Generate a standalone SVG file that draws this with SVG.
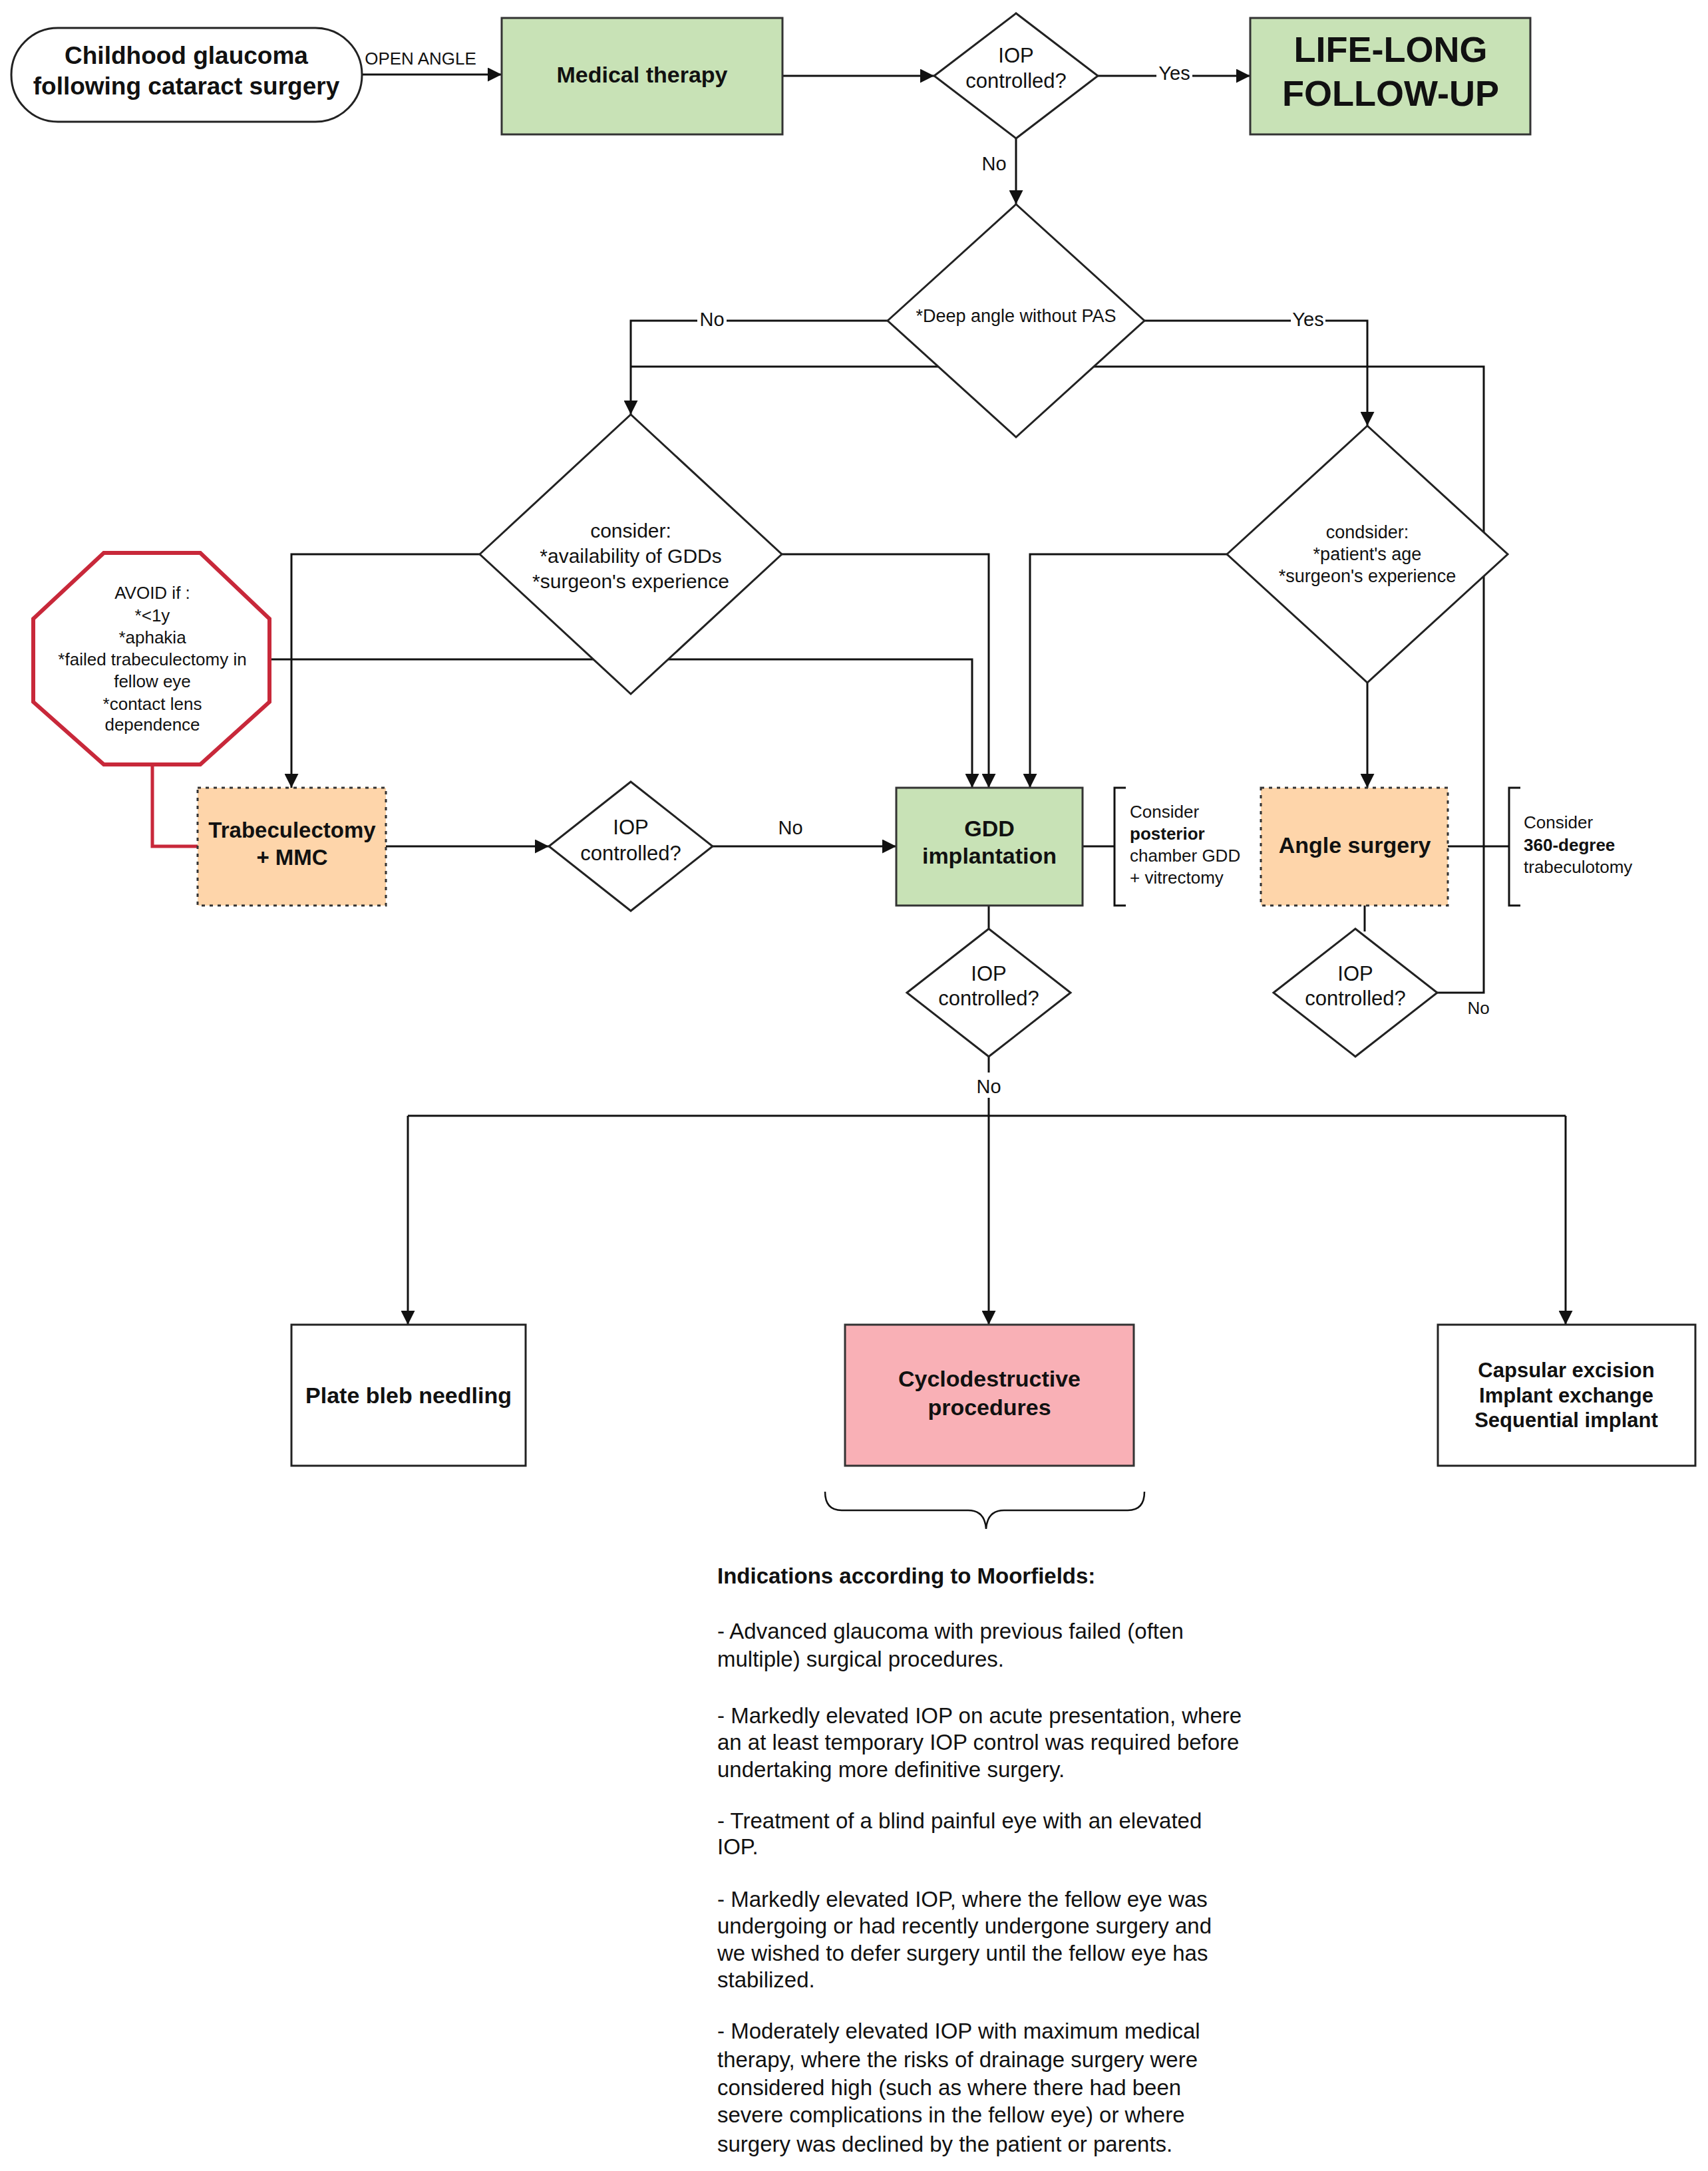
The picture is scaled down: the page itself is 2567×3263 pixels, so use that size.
<svg xmlns="http://www.w3.org/2000/svg" width="2567" height="3263" viewBox="0 0 2567 3263">
<style>
text{font-family:"Liberation Sans",Arial,sans-serif;fill:#111;text-anchor:middle}
.b{font-weight:bold}
.n{fill:#fff;stroke:#222;stroke-width:3}
.g{fill:#c8e2b6;stroke:#333;stroke-width:3}
.o{fill:#fed5aa;stroke:#333;stroke-width:3;stroke-dasharray:5 7}
.p{fill:#f9b0b6;stroke:#333;stroke-width:3}
.c path{fill:none;stroke:#111;stroke-width:3}
.l{text-anchor:start}
.lab{font-size:29px}
</style>
<defs><marker id="a" viewBox="0 0 10 10" refX="10" refY="5" markerWidth="9" markerHeight="9" markerUnits="userSpaceOnUse" orient="auto"><path d="M0,0L10,5L0,10z" fill="#111"/></marker>
<marker id="A" viewBox="0 0 10 10" refX="10" refY="5" markerWidth="7" markerHeight="7" orient="auto"><path d="M0,0L10,5L0,10z" fill="#111"/></marker></defs>
<rect width="2567" height="3263" fill="#fff"/>
<g class="c">
<path d="M544,112H754" marker-end="url(#A)"/>
<path d="M1176,114H1404" marker-end="url(#A)"/>
<path d="M1650,114H1879" marker-end="url(#A)"/>
<path d="M1527,208V307" marker-end="url(#A)"/>
<path d="M1334,482H948V623" marker-end="url(#A)"/>
<path d="M1720,482H2055V640" marker-end="url(#A)"/>
<path d="M2160,1492H2230V551H948"/>
<path d="M721,833H438V1184" marker-end="url(#A)"/>
<path d="M1175,833H1486V1184" marker-end="url(#A)"/>
<path d="M405,991H1461V1184" marker-end="url(#A)"/>
<path d="M1844,833H1548V1184" marker-end="url(#A)"/>
<path d="M2055,1026V1184" marker-end="url(#A)"/>
<path d="M229,1149V1272H297" style="stroke:#c8283a;stroke-width:5"/>
<path d="M580,1272H825" marker-end="url(#A)"/>
<path d="M1071,1272H1347" marker-end="url(#A)"/>
<path d="M1627,1272H1675"/>
<path d="M2176,1272H2268"/>
<path d="M2051,1361V1400"/>
<path d="M1486,1361V1396"/>
<path d="M1486,1588V1612M1486,1650V1991" marker-end="url(#A)"/>
<path d="M613,1677H2353"/>
<path d="M613,1677V1991" marker-end="url(#A)"/>
<path d="M2353,1677V1991" marker-end="url(#A)"/>
<path d="M1692,1184H1675V1361H1692"/>
<path d="M2285,1184H2268V1361H2285"/>
<path d="M1240,2242Q1240,2270 1265,2270L1455,2270Q1480,2270 1482,2298Q1484,2270 1509,2270L1695,2270Q1720,2270 1720,2242" style="stroke-width:2.5"/>
</g>
<g id="lbls" class="lab">
<text x="632" y="97" style="font-size:26px">OPEN ANGLE</text>
<rect x="1738" y="88" width="54" height="36" fill="#fff"/><text x="1765" y="120">Yes</text>
<text x="1494" y="256">No</text>
<rect x="1048" y="466" width="44" height="30" fill="#fff"/><text x="1070" y="490">No</text>
<rect x="1940" y="466" width="52" height="30" fill="#fff"/><text x="1966" y="490">Yes</text>
<text x="1188" y="1254">No</text>
<text x="2222" y="1524" style="font-size:26px">No</text>
<text x="1486" y="1643">No</text>
</g>
<g id="start"><rect x="17" y="42" width="527" height="141" rx="70" class="n"/><text x="280" y="96" class="b" style="font-size:37px">Childhood glaucoma</text><text x="280" y="142" class="b" style="font-size:37px">following cataract surgery</text></g>
<g id="med"><rect x="754" y="27" width="422" height="175" class="g"/><text x="965" y="124" class="b" style="font-size:34px">Medical therapy</text></g>
<g id="iop1"><path d="M1404,114L1527,20L1650,114L1527,208Z" class="n"/><text x="1527" y="94" style="font-size:31px">IOP</text><text x="1527" y="132" style="font-size:31px">controlled?</text></g>
<g id="life"><rect x="1879" y="27" width="421" height="175" class="g"/><text x="2090" y="93" class="b" style="font-size:54px">LIFE-LONG</text><text x="2090" y="159" class="b" style="font-size:54px">FOLLOW-UP</text></g>
<g id="deep"><path d="M1334,482L1527,307L1720,482L1527,657Z" class="n"/><text x="1527" y="484" style="font-size:27px">*Deep angle without PAS</text></g>
<g id="cons1"><path d="M721,833L948,623L1175,833L948,1043Z" class="n"/><text x="948" y="808" style="font-size:30px">consider:</text><text x="948" y="846" style="font-size:30px">*availability of GDDs</text><text x="948" y="884" style="font-size:30px">*surgeon's experience</text></g>
<g id="cons2"><path d="M1844,833L2055,640L2266,833L2055,1026Z" class="n"/><text x="2055" y="809" style="font-size:27px">condsider:</text><text x="2055" y="842" style="font-size:27px">*patient's age</text><text x="2055" y="875" style="font-size:27px">*surgeon's experience</text></g>
<g id="avoid"><path d="M156,831L301,831L405,930L405,1055L301,1149L156,1149L50,1055L50,930Z" fill="#fff" stroke="#c8283a" stroke-width="6"/>
<g style="font-size:26px"><text x="229" y="900">AVOID if :</text><text x="229" y="934">*&lt;1y</text><text x="229" y="967">*aphakia</text><text x="229" y="1000">*failed trabeculectomy in</text><text x="229" y="1033">fellow eye</text><text x="229" y="1067">*contact lens</text><text x="229" y="1098">dependence</text></g></g>
<g id="trab"><rect x="297" y="1184" width="283" height="177" class="o"/><text x="439" y="1259" class="b" style="font-size:33px">Trabeculectomy</text><text x="439" y="1300" class="b" style="font-size:33px">+ MMC</text></g>
<g id="iop2"><path d="M825,1272L948,1175L1071,1272L948,1369Z" class="n"/><text x="948" y="1254" style="font-size:31px">IOP</text><text x="948" y="1293" style="font-size:31px">controlled?</text></g>
<g id="gdd"><rect x="1347" y="1184" width="280" height="177" class="g"/><text x="1487" y="1257" class="b" style="font-size:34px">GDD</text><text x="1487" y="1298" class="b" style="font-size:34px">implantation</text></g>
<g id="note1" style="font-size:26px"><text x="1698" y="1229" class="l">Consider</text><text x="1698" y="1262" class="l b">posterior</text><text x="1698" y="1295" class="l">chamber GDD</text><text x="1698" y="1328" class="l">+ vitrectomy</text></g>
<g id="angle"><rect x="1895" y="1184" width="281" height="177" class="o"/><text x="2036" y="1282" class="b" style="font-size:34px">Angle surgery</text></g>
<g id="note2" style="font-size:26px"><text x="2290" y="1245" class="l">Consider</text><text x="2290" y="1279" class="l b">360-degree</text><text x="2290" y="1312" class="l">trabeculotomy</text></g>
<g id="iop3"><path d="M1914,1492L2037,1396L2160,1492L2037,1588Z" class="n"/><text x="2037" y="1474" style="font-size:31px">IOP</text><text x="2037" y="1511" style="font-size:31px">controlled?</text></g>
<g id="iop4"><path d="M1363,1492L1486,1396L1609,1492L1486,1588Z" class="n"/><text x="1486" y="1474" style="font-size:31px">IOP</text><text x="1486" y="1511" style="font-size:31px">controlled?</text></g>
<g id="plate"><rect x="438" y="1991" width="352" height="212" class="n"/><text x="614" y="2109" class="b" style="font-size:34px">Plate bleb needling</text></g>
<g id="cyclo"><rect x="1270" y="1991" width="434" height="212" class="p"/><text x="1487" y="2084" class="b" style="font-size:34px">Cyclodestructive</text><text x="1487" y="2127" class="b" style="font-size:34px">procedures</text></g>
<g id="caps"><rect x="2161" y="1991" width="387" height="212" class="n"/><text x="2354" y="2070" class="b" style="font-size:31px">Capsular excision</text><text x="2354" y="2108" class="b" style="font-size:31px">Implant exchange</text><text x="2354" y="2145" class="b" style="font-size:31px">Sequential implant</text></g>
<g id="ind" style="font-size:33px">
<text x="1078" y="2380" class="l b">Indications according to Moorfields:</text>
<text x="1078" y="2463" class="l">- Advanced glaucoma with previous failed (often</text>
<text x="1078" y="2505" class="l">multiple) surgical procedures.</text>
<text x="1078" y="2590" class="l">- Markedly elevated IOP on acute presentation, where</text>
<text x="1078" y="2630" class="l">an at least temporary IOP control was required before</text>
<text x="1078" y="2671" class="l">undertaking more definitive surgery.</text>
<text x="1078" y="2748" class="l">- Treatment of a blind painful eye with an elevated</text>
<text x="1078" y="2787" class="l">IOP.</text>
<text x="1078" y="2866" class="l">- Markedly elevated IOP, where the fellow eye was</text>
<text x="1078" y="2906" class="l">undergoing or had recently undergone surgery and</text>
<text x="1078" y="2947" class="l">we wished to defer surgery until the fellow eye has</text>
<text x="1078" y="2987" class="l">stabilized.</text>
<text x="1078" y="3064" class="l">- Moderately elevated IOP with maximum medical</text>
<text x="1078" y="3107" class="l">therapy, where the risks of drainage surgery were</text>
<text x="1078" y="3149" class="l">considered high (such as where there had been</text>
<text x="1078" y="3190" class="l">severe complications in the fellow eye) or where</text>
<text x="1078" y="3234" class="l">surgery was declined by the patient or parents.</text>
</g>
</svg>
